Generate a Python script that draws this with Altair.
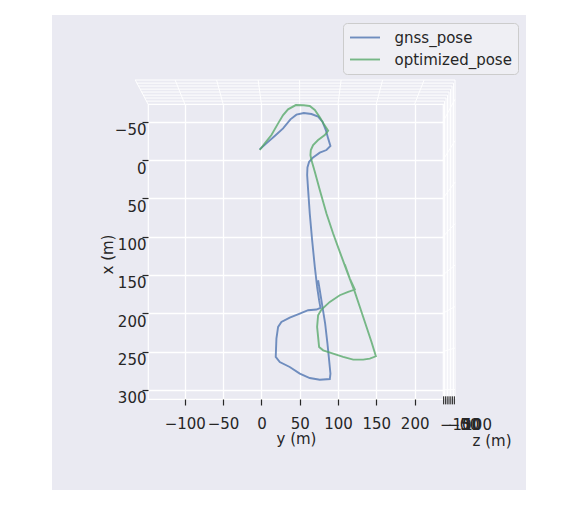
import altair as alt
import pandas as pd

# ---------------- data ----------------
series_names = ["gnss_pose", "optimized_pose"]

# horizontal axis = y (m), vertical axis = x (m)
gnss_y = [-2.2, 6.5, 17.4, 28.3, 37.9, 45.7, 55.3, 65.3, 74.0, 79.7, 84.1, 87.1, 90.1,
          84.9, 76.2, 67.5, 62.3, 60.1, 59.7, 61.0, 63.1, 66.2, 69.7, 72.7, 75.3, 77.1,
          71.9, 61.0, 50.1, 37.0, 26.1, 21.8, 19.6, 18.7, 24.0, 37.0, 50.1, 63.1, 76.2,
          89.3, 90.1, 88.4, 86.2, 83.2, 79.7, 76.2, 74.0]
gnss_x = [-13.9, -21.8, -31.4, -41.4, -53.2, -59.3, -61.4, -60.1, -56.7, -50.1, -39.2, -28.3, -18.3,
          -13.1, -9.6, -3.5, 2.2, 9.6, 19.6, 39.2, 69.7, 104.6, 139.5, 165.6, 183.0, 193.1,
          195.2, 196.1, 200.5, 205.7, 211.4, 217.9, 233.2, 257.1, 263.7, 270.2, 278.9, 284.6, 286.8,
          285.9, 278.9, 261.5, 239.7, 213.5, 191.8, 170.0, 156.9]

opt_y = [-2.2, 4.4, 13.1, 21.8, 28.3, 34.8, 44.9, 55.3, 63.1, 69.7, 76.2, 81.4, 87.1,
         82.7, 74.0, 67.5, 64.5, 64.0, 65.3, 69.7, 76.2, 84.9, 93.6, 102.3, 111.1, 117.6,
         121.9, 128.5, 137.2, 143.7, 149.4, 141.5, 132.8, 119.8, 106.7, 93.6, 80.6, 75.3,
         74.0, 72.7, 74.0, 78.4, 89.3, 102.3, 113.2, 121.9, 115.4, 108.9]
opt_x = [-13.1, -21.8, -32.7, -47.9, -58.8, -66.2, -71.8, -71.5, -70.6, -65.4, -55.8, -47.1, -38.3,
         -32.7, -26.1, -19.6, -13.1, -6.5, 0.0, 15.3, 39.2, 69.7, 95.9, 119.8, 143.8, 161.2,
         172.1, 191.8, 217.9, 237.5, 256.2, 259.3, 260.6, 260.6, 257.1, 252.8, 248.4, 244.0,
         231.0, 217.9, 202.6, 195.2, 185.2, 176.5, 172.1, 169.1, 154.7, 136.4]

y_ticks = [-100, -50, 0, 50, 100, 150, 200]
x_ticks = [-50, 0, 50, 100, 150, 200, 250, 300]
z_tick_labels = ["\u2212100", "\u221250", "0", "50", "100"]
z_label_pos = [233.0, 243.0, 259.0, 262.0, 263.5]

# ---------------- geometry helpers ----------------
Y_DOM = [-148, 237]
X_DOM = [-73.2, 312]
W, H = 295, 295
PX_Y = W / (Y_DOM[1] - Y_DOM[0])   # px per unit horizontally
PX_X = H / (X_DOM[1] - X_DOM[0])   # px per unit vertically
K = 0.083                          # perspective factor
CX_PAGE = 301 - 148                # vanishing centre in plot px
CY_PAGE = 393 - 104
DEPTH_X = 24 / PX_X                # top wall depth in x units
DEPTH_Y = 12 / PX_Y

rows = []
for name, ys, xs in [(series_names[0], gnss_y, gnss_x), (series_names[1], opt_y, opt_x)]:
    for i, (a, b) in enumerate(zip(ys, xs)):
        rows.append({"series": name, "order": i, "ycoord": a, "xcoord": b})
df = pd.DataFrame(rows)

# decorative 3-D box walls (white grid lines), drawn in data units
deco = []
fracs = [0.12, 0.25, 0.37, 0.5, 0.62, 0.75, 0.87, 1.0]
for t in fracs:
    deco.append({"y1": Y_DOM[0] - 13 / PX_Y * t, "y2": Y_DOM[1] + DEPTH_Y * t,
                 "x1": X_DOM[0] - DEPTH_X * t, "x2": X_DOM[0] - DEPTH_X * t})
    deco.append({"y1": Y_DOM[1] + DEPTH_Y * t, "y2": Y_DOM[1] + DEPTH_Y * t,
                 "x1": X_DOM[0] - DEPTH_X * t, "x2": X_DOM[1]})
for g in y_ticks + [Y_DOM[0]]:
    p = (g - Y_DOM[0]) * PX_Y
    shift = (p - CX_PAGE) * K / PX_Y
    deco.append({"y1": g, "y2": g + shift, "x1": X_DOM[0], "x2": X_DOM[0] - DEPTH_X})
for h in x_ticks:
    q = (h - X_DOM[0]) * PX_X
    shift = (q - CY_PAGE) * K / PX_X
    deco.append({"y1": Y_DOM[1], "y2": Y_DOM[1] + DEPTH_Y, "x1": h, "x2": h + shift})
deco_df = pd.DataFrame(deco)

clutter_df = pd.DataFrame({"yc": [Y_DOM[1] + DEPTH_Y * t for t in [0.05, 0.2, 0.35, 0.5, 0.65, 0.8, 0.95]]})
zlab_df = pd.DataFrame({"label": z_tick_labels, "yc": z_label_pos})

FONT = "DejaVu Sans"
FS = 15
TXT = "#262626"

xscale = alt.Scale(domain=Y_DOM, nice=False, zero=False)
yscale = alt.Scale(domain=X_DOM, nice=False, zero=False, reverse=True)

one = pd.DataFrame({"a": [0]})
white_left = alt.Chart(one).mark_rect(color="white").encode(
    x=alt.value(-140), x2=alt.value(-96), y=alt.value(-96), y2=alt.value(386))
white_top = alt.Chart(one).mark_rect(color="white").encode(
    x=alt.value(-140), x2=alt.value(378), y=alt.value(-96), y2=alt.value(-89))

walls = alt.Chart(deco_df).mark_rule(color="white", strokeWidth=1).encode(
    x=alt.X("y1:Q", scale=xscale), x2="y2:Q",
    y=alt.Y("x1:Q", scale=yscale), y2="x2:Q")

lines = alt.Chart(df).mark_line(strokeWidth=1.9, opacity=0.78).encode(
    x=alt.X("ycoord:Q", scale=xscale,
            axis=alt.Axis(values=y_ticks, title="y (m)", titleX=148, titleY=32,
                          titleBaseline="top", titleAlign="center",
                          tickSize=6, labelPadding=11)),
    y=alt.Y("xcoord:Q", scale=yscale,
            axis=alt.Axis(values=x_ticks, title="x (m)", titleX=-41, titleY=150,
                          titleAngle=270, titleBaseline="middle", titleAlign="center",
                          tickSize=6, labelPadding=-4, labelOffset=8)),
    color=alt.Color("series:N", scale=alt.Scale(domain=series_names, range=["#4C72B0", "#55A868"]),
                    legend=alt.Legend(title=None, orient="none", legendX=195, legendY=-81,
                                      symbolType="M-2,0H2", symbolSize=225, symbolStrokeWidth=1.9,
                                      symbolOffset=7.5, symbolOpacity=0.78,
                                      labelFontSize=FS, labelFont=FONT,
                                      labelColor=TXT, labelOffset=21, rowPadding=5, padding=6,
                                      fillColor="#EFEFF4", strokeColor="#CCCCCC", cornerRadius=4)),
    order="order:Q")

clutter = alt.Chart(clutter_df).mark_rule(color=TXT, strokeWidth=1).encode(
    x=alt.X("yc:Q", scale=xscale), y=alt.datum(308.5), y2=alt.datum(319.0))

zlabels = alt.Chart(zlab_df).mark_text(font=FONT, fontSize=FS, color=TXT, align="left",
                                        baseline="middle").encode(
    x=alt.X("yc:Q", scale=xscale), y=alt.datum(346.4), text="label:N")

ztitle = alt.Chart(one).mark_text(font=FONT, fontSize=FS, color=TXT, align="center",
                                  baseline="middle", text="z (m)").encode(
    x=alt.datum(301), y=alt.datum(367.3))

chart = alt.layer(white_left, white_top, walls, lines, clutter, zlabels, ztitle).properties(
    width=W, height=H,
    autosize=alt.AutoSizeParams(type="none"),
    padding={"left": 140, "top": 96, "right": 83, "bottom": 91},
    background="#EAEAF2",
).configure_view(
    stroke="white", strokeWidth=1.2, fill="#EAEAF2"
).configure_axis(
    grid=True, gridColor="white", gridWidth=1.3, domain=False,
    labelFont=FONT, labelFontSize=FS, labelColor=TXT,
    tickColor=TXT, tickWidth=1.2,
    titleFont=FONT, titleFontSize=FS, titleColor=TXT, titleFontWeight="normal",
)

chart.save("out.html", embed_options={"renderer": "svg", "actions": False})
